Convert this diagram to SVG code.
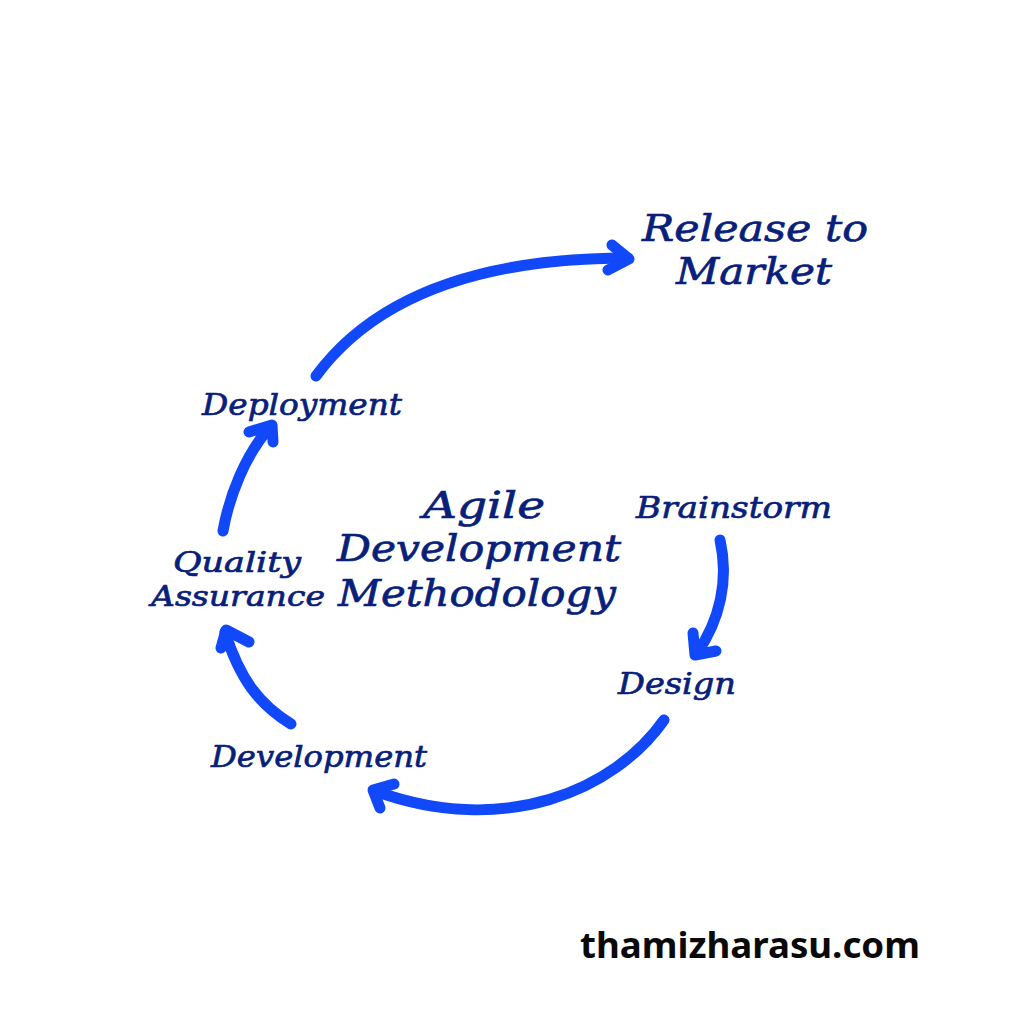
<svg xmlns="http://www.w3.org/2000/svg" width="1024" height="1024" viewBox="0 0 1024 1024">
<style>
.l{font-family:"DejaVu Serif","Liberation Serif",serif;font-style:italic;fill:#08207a;stroke:#08207a;stroke-width:.7;text-anchor:middle}
.c{fill:none;stroke:#1048fa;stroke-width:11;stroke-linecap:round;stroke-linejoin:round}
</style>
<rect width="1024" height="1024" fill="#fff"/>
<g id="connectors">
<path class="c" d="M316 376C375 296 480 258 628 258"/><path class="c" d="M612 245L629 259L608 270"/>
<path class="c" d="M223 531C229 497 245 455 270 427"/><path class="c" d="M249 432L272 425L273 442"/>
<path class="c" d="M720 540C729 580 720 620 697 653"/><path class="c" d="M693 633L695 655L716 651"/>
<path class="c" d="M664 720C615 790 505 838 375 791"/><path class="c" d="M394 784L373 790L380 808"/>
<path class="c" d="M291 724C260 705 240 680 225 632"/><path class="c" d="M221 648L226 630L249 642"/>
</g>
<g id="release"><text class="l" font-size="38" x="755" y="241" textLength="226" lengthAdjust="spacingAndGlyphs">Release to</text><text class="l" font-size="38" x="754" y="284" textLength="156" lengthAdjust="spacingAndGlyphs">Market</text></g>
<g id="deployment"><text class="l" font-size="30" x="302" y="415" textLength="200" lengthAdjust="spacingAndGlyphs">Deployment</text></g>
<g id="center"><text class="l" font-size="38" x="484" y="518" textLength="122" lengthAdjust="spacingAndGlyphs">Agile</text><text class="l" font-size="38" x="479" y="561" textLength="284" lengthAdjust="spacingAndGlyphs">Development</text><text class="l" font-size="38" x="477" y="606" textLength="278" lengthAdjust="spacingAndGlyphs">Methodology</text></g>
<g id="brainstorm"><text class="l" font-size="30" x="734" y="518" textLength="196" lengthAdjust="spacingAndGlyphs">Brainstorm</text></g>
<g id="quality"><text class="l" font-size="28" x="237" y="572" textLength="128" lengthAdjust="spacingAndGlyphs">Quality</text><text class="l" font-size="28" x="238" y="606" textLength="174" lengthAdjust="spacingAndGlyphs">Assurance</text></g>
<g id="design"><text class="l" font-size="30" x="677" y="694" textLength="118" lengthAdjust="spacingAndGlyphs">Design</text></g>
<g id="development"><text class="l" font-size="30" x="319" y="767" textLength="216" lengthAdjust="spacingAndGlyphs">Development</text></g>
<g id="footer"><text x="750" y="958" font-family="'Noto Sans','Open Sans',sans-serif" font-weight="700" font-size="36" fill="#0a0a0a" text-anchor="middle" textLength="340" lengthAdjust="spacingAndGlyphs">thamizharasu.com</text></g>
</svg>
